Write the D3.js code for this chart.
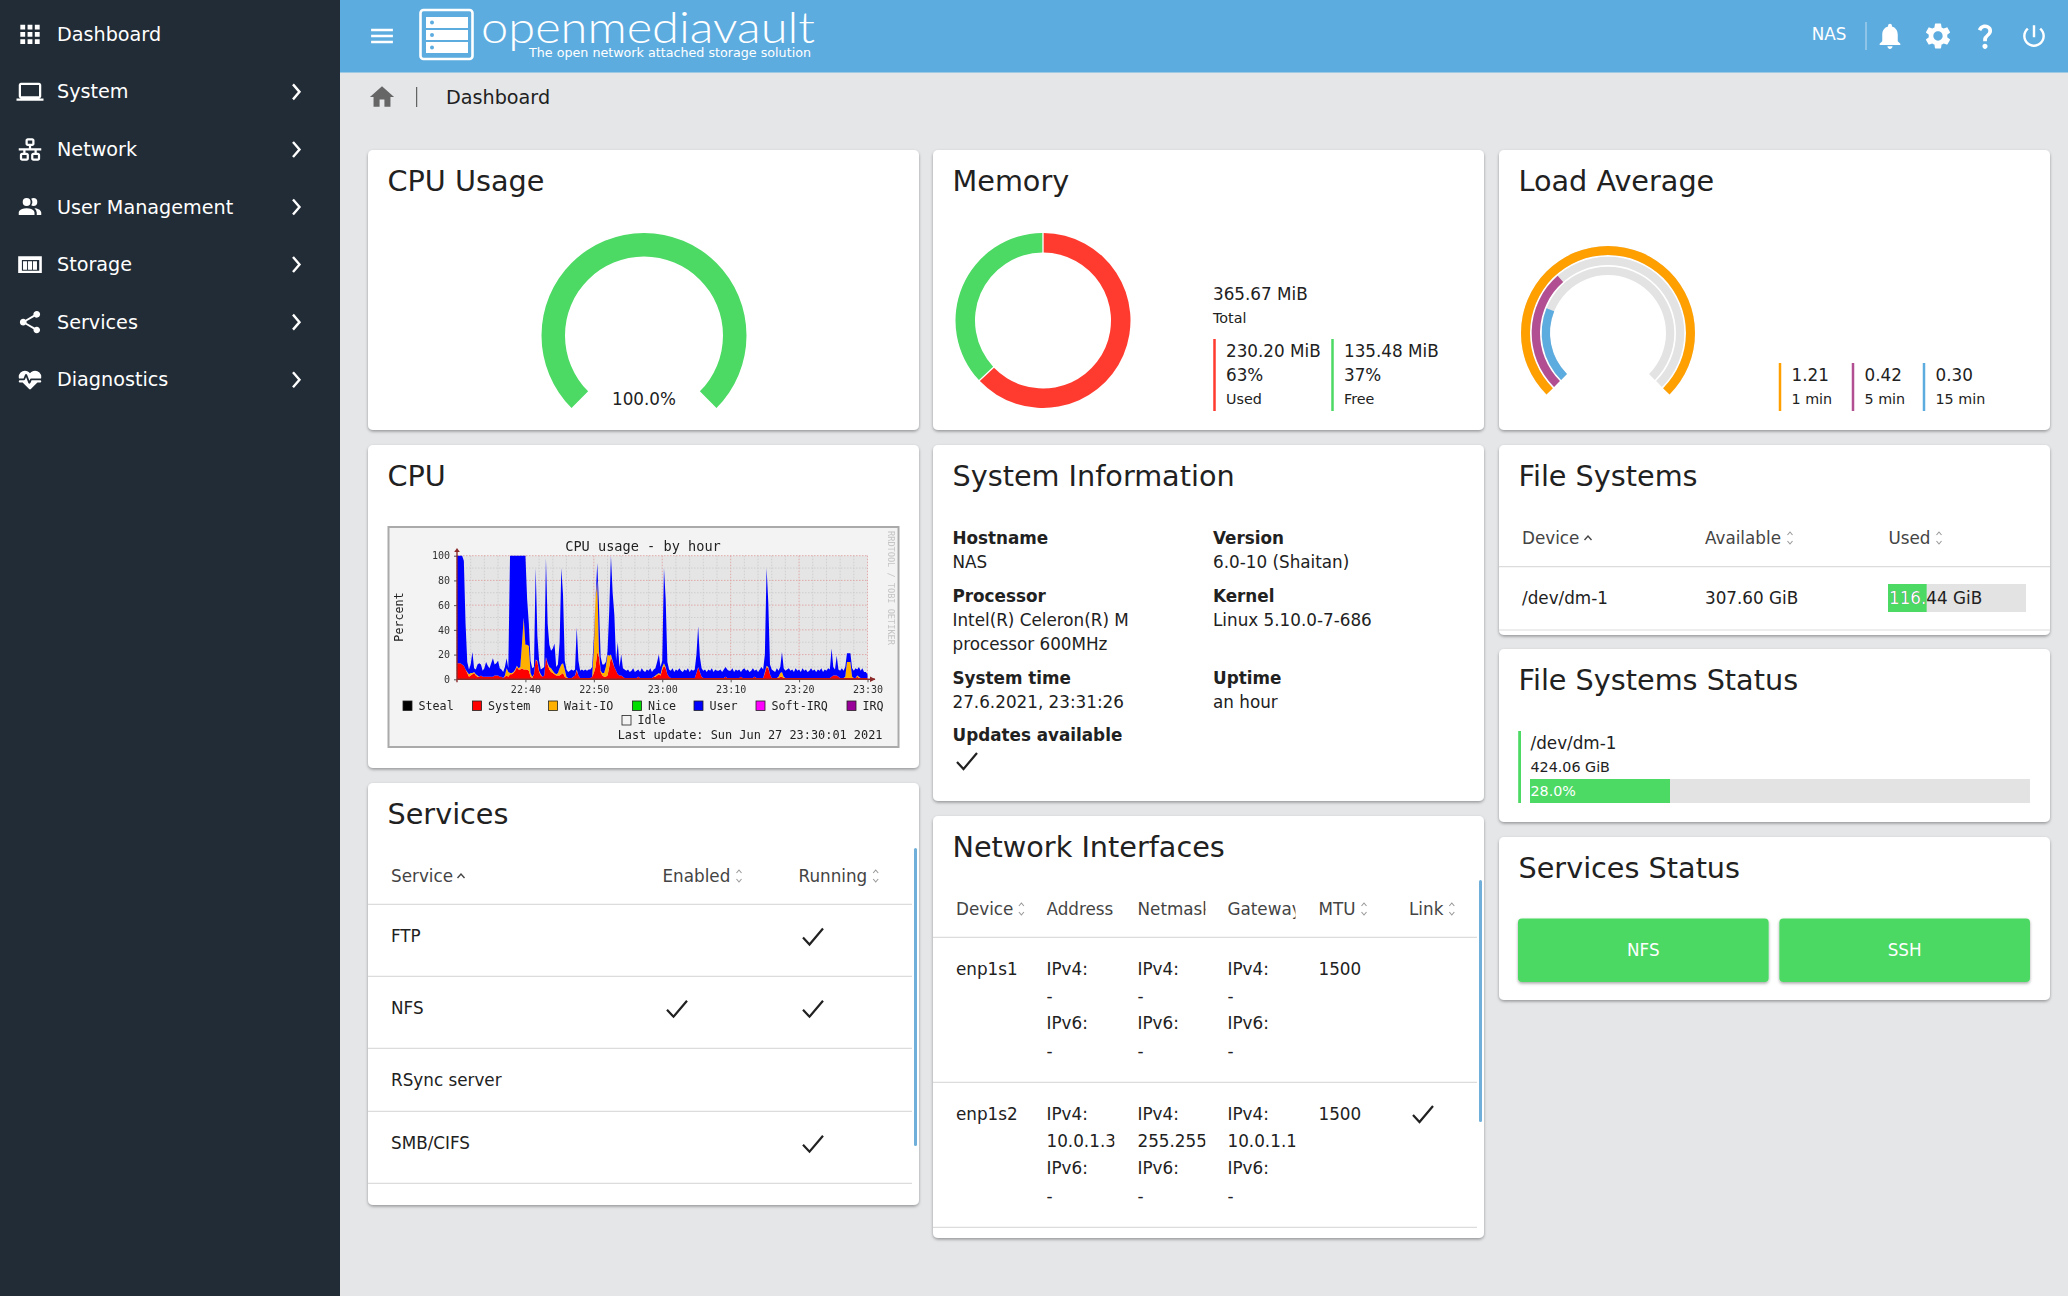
<!DOCTYPE html>
<html>
<head>
<meta charset="utf-8">
<title>openmediavault Dashboard</title>
<script src="https://cdn.jsdelivr.net/npm/d3@7"></script>
<style>
  html, body { margin: 0; padding: 0; background: #e4e6e8; overflow: hidden; }
  svg { display: block; }
  text { font-family: "DejaVu Sans", sans-serif; fill: #212121; dominant-baseline: central; }
  .mono text, text.mono { font-family: "DejaVu Sans Mono", monospace; }
</style>
</head>
<body>
<svg id="page" width="2068" height="1296"></svg>
<script>
// sidebar + header
const navItems = ['Dashboard', 'System', 'Network', 'User Management', 'Storage', 'Services', 'Diagnostics'];

// gauges
const cpuUsage = 100;
const memoryLabels = ['Used', 'Free'];
const memoryPercent = [63, 37];
const memoryAmounts = ['230.20 MiB', '135.48 MiB'];
const memoryTotal = '365.67 MiB';
const loadLabels = ['1 min', '5 min', '15 min'];
const loadValues = [1.21, 0.42, 0.30];

// rrd graph, one sample every 15 seconds from 22:30 to 23:30 (percent)
// rrdBusy is the top edge of the stack, user is whatever is left above system + wait
const rrdBusy = [
  100,100,100,100,96,45,14,8,12,22,9,8,12,13,12,7,9,14,11,9,
  13,17,12,13,15,9,8,6,10,17,9,100,100,100,100,100,100,100,100,100,
  100,65,45,15,9,10,90,35,15,8,9,10,98,45,28,23,25,29,10,12,
  30,90,68,15,8,6,7,8,7,8,42,15,7,8,7,8,7,8,8,10,
  33,65,94,60,18,12,12,14,22,55,100,70,52,15,30,10,20,9,8,7,
  8,6,7,9,6,7,8,6,9,7,6,8,7,9,6,8,9,14,20,10,
  15,90,65,14,8,7,9,6,8,7,9,7,6,8,7,9,6,8,7,8,
  20,43,18,9,7,8,6,8,7,9,6,8,7,7,8,6,8,10,8,7,
  7,9,6,8,7,8,6,8,9,7,8,6,7,9,7,8,6,8,10,8,
  20,90,62,12,8,7,6,9,7,10,22,9,7,8,9,7,8,6,9,7,
  8,6,9,7,8,6,7,9,7,8,6,8,7,9,6,8,7,9,8,25,
  10,8,19,8,7,9,7,10,21,21,21,9,7,9,8,10,7,9,6,6,4
];
const rrdSystem = [
  13,13,13,12,11,8,5,2,3,4,5,3,2,2,3,2,2,2,2,2,
  2,2,3,3,3,2,2,1,2,3,2,4,4,5,7,10,8,8,9,8,
  8,8,7,2,1,4,16,14,6,3,2,3,18,12,8,6,5,4,3,3,
  3,4,5,2,1,1,1,1,2,3,7,3,1,1,1,1,1,1,1,2,
  5,10,22,18,6,3,2,2,3,10,18,14,10,7,4,3,3,2,1,1,
  1,1,1,1,1,1,2,1,1,1,1,1,1,1,1,2,2,3,4,3,
  8,11,9,4,2,1,1,1,1,1,1,1,1,1,1,1,1,1,1,1,
  5,10,6,2,1,1,1,1,1,1,1,1,1,1,1,1,1,2,1,1,
  1,1,1,1,1,1,2,1,1,1,1,1,1,1,2,1,1,1,1,1,
  5,10,9,4,1,1,1,1,1,2,2,1,1,1,1,1,1,1,1,1,
  1,1,1,1,1,1,1,1,1,1,1,1,1,1,1,1,1,1,1,2,
  3,3,3,2,1,1,1,1,1,1,1,1,1,1,2,1,1,1,1,1,1
];
const rrdWait = [
  0,0,0,0,0,0,1,2,2,1,1,1,1,0,0,0,0,0,0,0,
  0,0,0,0,0,0,0,0,1,6,4,1,1,1,1,1,1,2,20,42,
  20,20,20,3,1,0,0,1,1,1,0,0,0,1,2,3,2,1,1,2,
  6,8,8,6,1,0,0,0,0,0,1,0,0,0,0,0,0,0,0,0,
  20,55,58,5,1,2,3,8,17,9,2,1,0,0,0,0,0,0,0,0,
  0,0,0,0,0,0,0,0,0,0,0,0,0,0,0,0,1,1,1,1,
  2,2,1,0,0,0,0,0,0,0,0,0,0,0,0,0,0,0,0,0,
  0,0,0,0,0,0,0,0,0,0,0,0,0,0,0,0,0,0,0,0,
  0,0,0,0,0,0,0,0,0,0,0,0,0,0,0,0,0,0,0,0,
  1,1,1,0,0,0,0,0,1,3,4,1,0,0,0,0,0,0,0,0,
  0,0,0,0,0,0,0,0,0,0,0,0,0,0,0,0,0,0,0,0,
  0,0,0,0,0,0,0,1,13,13,13,1,0,0,1,1,0,0,0,0,0
];
const rrdMinutes = rrdBusy.map((d, i) => i / 4);
const rrdTickMinutes = [10, 20, 30, 40, 50, 60];
const rrdTickLabels = ['22:40', '22:50', '23:00', '23:10', '23:20', '23:30'];
const rrdYTicks = [0, 20, 40, 60, 80, 100];
const rrdLegend = ['Steal', 'System', 'Wait-IO', 'Nice', 'User', 'Soft-IRQ', 'IRQ'];
const rrdLegendColors = ['#000000', '#ff0000', '#ffb000', '#00dd00', '#0000ff', '#ff00ff', '#990099'];

// tables
const serviceNames = ['FTP', 'NFS', 'RSync server', 'SMB/CIFS'];
const serviceEnabled = [false, true, false, false];
const serviceRunning = [true, true, false, true];
const netDevices = ['enp1s1', 'enp1s2'];
const netAddress = ['-', '10.0.1.3'];
const netNetmask = ['-', '255.255.255.0'];
const netGateway = ['-', '10.0.1.1'];
const netMtu = ['1500', '1500'];
const netLink = [false, true];
const fsDevice = '/dev/dm-1';
const fsAvailable = '307.60 GiB';
const fsUsed = '116.44 GiB';
const fsUsedPercent = 28;
const fsTotal = '424.06 GiB';
const statusServices = ['NFS', 'SSH'];

const GREEN = '#4cd964', RED = '#ff3b30', ORANGE = '#ff9f00', PURPLE = '#b14f92', BLUE = '#5dacdf', TRACK = '#e3e3e3';

const icons = {
  apps: 'M4 8h4V4H4v4zm6 12h4v-4h-4v4zm-6 0h4v-4H4v4zm0-6h4v-4H4v4zm6 0h4v-4h-4v4zm6-10v4h4V4h-4zm-6 4h4V4h-4v4zm6 6h4v-4h-4v4zm0 6h4v-4h-4v4z',
  laptop: 'M20 18c1.1 0 1.99-.9 1.99-2L22 6c0-1.1-.9-2-2-2H4c-1.1 0-2 .9-2 2v10c0 1.1.9 2 2 2H0v2h24v-2h-4zM4 6h16v10H4V6z',
  lan: 'M10,2C8.89,2 8,2.89 8,4V7C8,8.11 8.89,9 10,9H11V11H2V13H6V15H5C3.89,15 3,15.89 3,17V20C3,21.11 3.89,22 5,22H9C10.11,22 11,21.11 11,20V17C11,15.89 10.11,15 9,15H8V13H16V15H15C13.89,15 13,15.89 13,17V20C13,21.11 13.89,22 15,22H19C20.11,22 21,21.11 21,20V17C21,15.89 20.11,15 19,15H18V13H22V11H13V9H14C15.11,9 16,8.11 16,7V4C16,2.89 15.11,2 14,2H10M10,4H14V7H10V4M5,17H9V20H5V17M15,17H19V20H15V17Z',
  people: 'M16 17V19H2V17S2 13 9 13 16 17 16 17M12.5 7.5A3.5 3.5 0 1 0 9 11A3.5 3.5 0 0 0 12.5 7.5M15.94 13A5.32 5.32 0 0 1 18 17V19H22V17S22 13.37 15.94 13M15 4A3.39 3.39 0 0 0 13.07 4.59A5 5 0 0 1 13.07 10.41A3.39 3.39 0 0 0 15 11A3.5 3.5 0 0 0 15 4Z',
  storage: 'M1.5 4.5h21v15h-21zM4.8 8v9.5h15.4V8zM5.8 9h3.6v7.5H5.8zM10.2 9h3.6v7.5h-3.6zM14.6 9h3.6v7.5h-3.6z',
  share: 'M18 16.08c-.76 0-1.44.3-1.96.77L8.91 12.7c.05-.23.09-.46.09-.7s-.04-.47-.09-.7l7.05-4.11c.54.5 1.25.81 2.04.81 1.66 0 3-1.34 3-3s-1.34-3-3-3-3 1.34-3 3c0 .24.04.47.09.7L8.04 9.81C7.5 9.31 6.79 9 6 9c-1.66 0-3 1.34-3 3s1.34 3 3 3c.79 0 1.5-.31 2.04-.81l7.12 4.16c-.05.21-.08.43-.08.65 0 1.61 1.31 2.92 2.92 2.92 1.61 0 2.92-1.31 2.92-2.92s-1.31-2.92-2.92-2.92z',
  pulse: 'M7.5,4A5.5,5.5 0 0,0 2,9.5C2,10 2.09,10.5 2.22,11H6.3L7.57,7.63C7.87,6.83 9.05,6.75 9.43,7.63L11.5,13L12.09,11.58C12.22,11.25 12.57,11 13,11H21.78C21.91,10.5 22,10 22,9.5A5.5,5.5 0 0,0 16.5,4C14.64,4 13,4.93 12,6.34C11,4.93 9.36,4 7.5,4V4M3,12.5A1,1 0 0,0 2,13.5A1,1 0 0,0 3,14.5H5.44L11,20C12,20.9 12,20.9 13,20L18.56,14.5H21A1,1 0 0,0 22,13.5A1,1 0 0,0 21,12.5H13.4L12.47,14.8C12.07,15.81 10.92,15.67 10.55,14.83L8.5,9.5L7.54,11.83C7.39,12.21 7.05,12.5 6.6,12.5H3Z',
  home: 'M10 20v-6h4v6h5v-8h3L12 3 2 12h3v8z',
  menu: 'M3 18h18v-2H3v2zm0-5h18v-2H3v2zm0-7v2h18V6H3z',
  bell: 'M12 22c1.1 0 2-.9 2-2h-4c0 1.1.89 2 2 2zm6-6v-5c0-3.07-1.64-5.64-4.5-6.32V4c0-.83-.67-1.5-1.5-1.5s-1.5.67-1.5 1.5v.68C7.63 5.36 6 7.92 6 11v5l-2 2v1h16v-1l-2-2z',
  cog: 'M19.14 12.94c.04-.3.06-.61.06-.94 0-.32-.02-.64-.07-.94l2.03-1.58c.18-.14.23-.41.12-.61l-1.92-3.32c-.12-.22-.37-.29-.59-.22l-2.39.96c-.5-.38-1.03-.7-1.62-.94l-.36-2.54c-.04-.24-.24-.41-.48-.41h-3.84c-.24 0-.43.17-.47.41l-.36 2.54c-.59.24-1.13.57-1.62.94l-2.39-.96c-.22-.08-.47 0-.59.22L2.74 8.87c-.12.21-.08.47.12.61l2.03 1.58c-.05.3-.09.63-.09.94s.02.64.07.94l-2.03 1.58c-.18.14-.23.41-.12.61l1.92 3.32c.12.22.37.29.59.22l2.39-.96c.5.38 1.03.7 1.62.94l.36 2.54c.05.24.24.41.48.41h3.84c.24 0 .44-.17.47-.41l.36-2.54c.59-.24 1.13-.56 1.62-.94l2.39.96c.22.08.47 0 .59-.22l1.92-3.32c.12-.22.07-.47-.12-.61l-2.01-1.58zM12 15.6c-1.98 0-3.6-1.62-3.6-3.6s1.62-3.6 3.6-3.6 3.6 1.62 3.6 3.6-1.62 3.6-3.6 3.6z',
  help: 'M11.07 12.85c.77-1.39 2.25-2.21 3.11-3.44.91-1.29.4-3.7-2.18-3.7-1.69 0-2.52 1.28-2.87 2.34L6.54 6.96C7.25 4.83 9.18 3 11.99 3c2.35 0 3.96 1.07 4.78 2.41.7 1.15 1.11 3.3.03 4.9-1.2 1.77-2.35 2.31-2.97 3.45-.25.46-.35.76-.35 2.24h-2.89c-.01-.78-.13-2.05.48-3.15zM14 20c0 1.1-.9 2-2 2s-2-.9-2-2 .9-2 2-2 2 .9 2 2z',
  power: 'M13 3h-2v10h2V3zm4.83 2.17l-1.42 1.42C17.99 7.86 19 9.81 19 12c0 3.87-3.13 7-7 7s-7-3.13-7-7c0-2.19 1.01-4.14 2.58-5.42L6.17 5.17C4.23 6.82 3 9.26 3 12c0 4.97 4.03 9 9 9s9-4.03 9-9c0-2.74-1.23-5.18-3.17-6.83z'
};
const navIcons = ['apps', 'laptop', 'lan', 'people', 'storage', 'share', 'pulse'];

const svg = d3.select('#page');
const defs = svg.append('defs');

const shadow = defs.append('filter').attr('id', 'shadow')
  .attr('x', '-5%').attr('y', '-5%').attr('width', '110%').attr('height', '112%');
shadow.append('feDropShadow').attr('dx', 0).attr('dy', 1.5).attr('stdDeviation', 1.5)
  .attr('flood-color', '#000').attr('flood-opacity', 0.35);
defs.append('filter').attr('id', 'soft').append('feGaussianBlur').attr('stdDeviation', 0.5);

function label(g, x, y, str, opts = {}) {
  return g.append('text')
    .attr('x', x).attr('y', y)
    .attr('text-anchor', opts.anchor || 'start')
    .style('font-size', (opts.size || 16.8) + 'px')
    .style('font-weight', opts.weight || 400)
    .style('fill', opts.fill || '#212121')
    .text(str);
}

function icon(g, name, cx, cy, size, fill) {
  const k = size / 24;
  g.append('path')
    .attr('d', icons[name])
    .attr('fill-rule', 'evenodd')
    .attr('fill', fill)
    .attr('transform', `translate(${cx - size / 2},${cy - size / 2}) scale(${k})`);
}

function polyline(g, pts, stroke, width) {
  g.append('path')
    .attr('d', d3.line()(pts))
    .attr('fill', 'none')
    .attr('stroke', stroke)
    .attr('stroke-width', width);
}

function check(g, cx, cy) {
  polyline(g, [[cx - 10, cy + 1], [cx - 3.5, cy + 8], [cx + 10, cy - 8]], '#212121', 2.2);
}

function sortUp(g, x, y) {
  polyline(g, [[x - 3.5, y + 2], [x, y - 2], [x + 3.5, y + 2]], '#444', 1.4);
}

function sortBoth(g, x, y) {
  polyline(g, [[x - 2.5, y - 3], [x, y - 6], [x + 2.5, y - 3]], '#999', 1.1);
  polyline(g, [[x - 2.5, y + 3], [x, y + 6], [x + 2.5, y + 3]], '#999', 1.1);
}

function card(x, y, w, h, title) {
  const g = svg.append('g');
  g.append('rect').attr('x', x).attr('y', y).attr('width', w).attr('height', h)
    .attr('rx', 5).attr('fill', '#fff').attr('filter', 'url(#shadow)');
  label(g, x + 19.5, y + 31, title, { size: 28.7 });
  return g;
}

function hline(g, x1, x2, y) {
  g.append('line').attr('x1', x1).attr('x2', x2).attr('y1', y).attr('y2', y)
    .attr('stroke', '#dcdcdc').attr('stroke-width', 1.2);
}

function scrollbar(g, x, y1, y2) {
  g.append('rect').attr('x', x).attr('y', y1).attr('width', 3).attr('height', y2 - y1)
    .attr('rx', 1.5).attr('fill', '#6fafd9');
}

// ---- sidebar
svg.append('rect').attr('width', 340).attr('height', 1296).attr('fill', '#222c36');
const sideScale = d3.scalePoint().domain(navItems).range([34.3, 379.7]);
navItems.forEach((name, i) => {
  const y = sideScale(name);
  icon(svg, navIcons[i], 30, y, i === 0 ? 29 : 27, '#fff');
  label(svg, 57, y, name, { size: 19.2, fill: '#fff' });
  if (i > 0) polyline(svg, [[293, y - 7.5], [299.5, y], [293, y + 7.5]], '#fff', 2.4);
});

// ---- top bar
svg.append('rect').attr('x', 340).attr('width', 1728).attr('height', 72.5).attr('fill', '#5dacdf');
icon(svg, 'menu', 382, 36, 29, '#fff');
svg.append('rect').attr('x', 420.5).attr('y', 10).attr('width', 52).attr('height', 49)
  .attr('rx', 3).attr('fill', 'none').attr('stroke', '#fff').attr('stroke-width', 2.6);
[[17, 11], [30, 10], [42, 11]].forEach(([y, h]) => {
  svg.append('rect').attr('x', 426).attr('y', y).attr('width', 42).attr('height', h).attr('fill', '#fff');
  svg.append('circle').attr('cx', 432).attr('cy', y + h / 2).attr('r', 2).attr('fill', '#5dacdf');
});
label(svg, 481, 42.7, 'openmediavault', { size: 43, weight: 300, fill: '#fff' })
  .style('font-family', 'Lato, sans-serif').style('dominant-baseline', 'auto')
  .attr('textLength', 334).attr('lengthAdjust', 'spacingAndGlyphs');
label(svg, 529, 52, 'The open network attached storage solution', { size: 13, fill: '#fff' })
  .attr('textLength', 282).attr('lengthAdjust', 'spacingAndGlyphs');
label(svg, 1829, 34, 'NAS', { fill: '#fff', anchor: 'middle' });
svg.append('line').attr('x1', 1866).attr('x2', 1866).attr('y1', 22).attr('y2', 50)
  .attr('stroke', '#fff').attr('stroke-opacity', 0.6);
icon(svg, 'bell', 1890, 36, 31, '#fff');
icon(svg, 'cog', 1938, 36, 31, '#fff');
icon(svg, 'help', 1985, 36, 31, '#fff');
icon(svg, 'power', 2034, 36, 29, '#fff');

// ---- breadcrumb
icon(svg, 'home', 382, 97, 29, '#666');
svg.append('line').attr('x1', 416.7).attr('x2', 416.7).attr('y1', 87).attr('y2', 107).attr('stroke', '#444');
label(svg, 446, 97, 'Dashboard', { size: 19.2 });

const gaugeAngle = d3.scaleLinear().domain([0, 1]).range([-0.75 * Math.PI, 0.75 * Math.PI]);

// ---- CPU usage
{
  const g = card(368, 150, 551, 280, 'CPU Usage');
  const arc = d3.arc().innerRadius(79).outerRadius(102.5)
    .startAngle(gaugeAngle(0)).endAngle(gaugeAngle(cpuUsage / 100));
  g.append('path').attr('d', arc()).attr('transform', 'translate(644,335.5)').attr('fill', GREEN);
  label(g, 644, 398.5, cpuUsage.toFixed(1) + '%', { size: 16.8, anchor: 'middle' });
}

// ---- memory
{
  const g = card(933, 150, 551, 280, 'Memory');
  const pie = d3.pie().sort(null).padAngle(0.012);
  const arc = d3.arc().innerRadius(68).outerRadius(87.5);
  g.selectAll('path.slice').data(pie(memoryPercent)).join('path')
    .attr('class', 'slice')
    .attr('d', arc)
    .attr('transform', 'translate(1043,320.5)')
    .attr('fill', (d, i) => [RED, GREEN][i]);
  label(g, 1213, 294, memoryTotal);
  label(g, 1213, 317.5, 'Total', { size: 14.3 });
  [1214.5, 1332.5].forEach((x, i) => {
    g.append('rect').attr('x', x - 1.25).attr('y', 339).attr('width', 2.5).attr('height', 72)
      .attr('fill', [RED, GREEN][i]);
    label(g, x + 11.5, 351, memoryAmounts[i]);
    label(g, x + 11.5, 375, memoryPercent[i] + '%');
    label(g, x + 11.5, 399, memoryLabels[i], { size: 14.3 });
  });
}

// ---- load average
{
  const g = card(1499, 150, 551, 280, 'Load Average');
  const radii = [[78, 87], [68, 76.3], [58, 66.3]];
  const colors = [ORANGE, PURPLE, BLUE];
  const loadScale = d3.scaleLinear().domain([0, d3.max(loadValues)]).range([0, 1]);
  loadValues.forEach((v, i) => {
    const arc = d3.arc().innerRadius(radii[i][0]).outerRadius(radii[i][1]);
    g.append('path').attr('transform', 'translate(1608,333)').attr('fill', TRACK)
      .attr('d', arc({ startAngle: gaugeAngle(0), endAngle: gaugeAngle(1) }));
    g.append('path').attr('transform', 'translate(1608,333)').attr('fill', colors[i])
      .attr('d', arc({ startAngle: gaugeAngle(0), endAngle: gaugeAngle(loadScale(v)) }));
  });
  [1780, 1853, 1924].forEach((x, i) => {
    g.append('rect').attr('x', x - 1.25).attr('y', 363).attr('width', 2.5).attr('height', 48).attr('fill', colors[i]);
    label(g, x + 11.5, 375, loadValues[i].toFixed(2));
    label(g, x + 11.5, 399, loadLabels[i], { size: 14.3 });
  });
}

// ---- CPU rrd graph
{
  const g = card(368, 445, 551, 323, 'CPU');
  const box = g.append('g').attr('class', 'mono').attr('filter', 'url(#soft)');
  box.append('rect').attr('x', 388.5).attr('y', 527).attr('width', 510).attr('height', 220)
    .attr('fill', '#f3f3f3').attr('stroke', '#aaa').attr('stroke-width', 2);

  const x = d3.scaleLinear().domain([0, 60]).range([457, 867.5]);
  const y = d3.scaleLinear().domain([0, 100]).range([679.3, 555.7]);

  box.append('rect').attr('x', x(0)).attr('y', y(100)).attr('width', x(60) - x(0)).attr('height', y(0) - y(100))
    .attr('fill', '#e5e5e5');

  d3.range(0, 61, 2).forEach(m => {
    const major = m % 10 === 0;
    box.append('line').attr('x1', x(m)).attr('x2', x(m)).attr('y1', y(100)).attr('y2', y(0))
      .attr('stroke', major ? '#e09a9a' : '#c9c9c9').attr('stroke-width', 0.8)
      .attr('stroke-dasharray', '1.5 1.5');
  });
  d3.range(0, 101, 10).forEach(v => {
    const major = v % 20 === 0;
    box.append('line').attr('x1', x(0)).attr('x2', x(60)).attr('y1', y(v)).attr('y2', y(v))
      .attr('stroke', major ? '#e09a9a' : '#c9c9c9').attr('stroke-width', 0.8)
      .attr('stroke-dasharray', '1.5 1.5');
  });

  const stackKeys = ['system', 'wait', 'user'];
  const rows = rrdMinutes.map((m, i) => ({
    m,
    system: rrdSystem[i],
    wait: rrdWait[i],
    user: Math.max(0, rrdBusy[i] - rrdSystem[i] - rrdWait[i])
  }));
  const area = d3.area().x(d => x(d.data.m)).y0(d => y(d[0])).y1(d => y(d[1]));
  const stackColors = { system: '#ff0000', wait: '#ffb000', user: '#0000ff' };
  box.selectAll('path.band').data(d3.stack().keys(stackKeys)(rows)).join('path')
    .attr('class', 'band')
    .attr('d', area)
    .attr('fill', d => stackColors[d.key]);

  const axisColor = '#8c2a2a';
  const xAxis = d3.axisBottom(x).tickValues(rrdTickMinutes).tickSize(3)
    .tickFormat((d, i) => rrdTickLabels[i]);
  const yAxis = d3.axisLeft(y).tickValues(rrdYTicks).tickSize(3);
  const gx = box.append('g').attr('transform', `translate(0,${y(0)})`).call(xAxis);
  const gy = box.append('g').attr('transform', `translate(${x(0)},0)`).call(yAxis);
  [gx, gy].forEach(a => {
    a.select('.domain').remove();
    a.selectAll('line').attr('stroke', '#555');
    a.selectAll('text').style('font-family', '"DejaVu Sans Mono", monospace').style('font-size', '10px')
      .style('fill', '#333').attr('font-size', null);
  });
  gx.selectAll('text').attr('y', 10).attr('dy', '0.35em').style('dominant-baseline', 'auto');
  gy.selectAll('text').attr('x', -7).attr('dy', '0.32em').style('dominant-baseline', 'auto');

  polyline(box, [[x(0), y(0)], [875, y(0)]], axisColor, 1.4);
  polyline(box, [[x(0), y(0) + 3], [x(0), 550]], axisColor, 1.4);
  box.append('path').attr('d', d3.line()([[870, y(0) - 2.8], [875.5, y(0)], [870, y(0) + 2.8]])).attr('fill', axisColor);
  box.append('path').attr('d', d3.line()([[x(0) - 2.8, 552], [x(0), 548], [x(0) + 2.8, 552]])).attr('fill', axisColor);

  label(box, 643, 546, 'CPU usage - by hour', { size: 13.6, anchor: 'middle', fill: '#222' });
  label(box, 398.6, 617, 'Percent', { size: 11.7, anchor: 'middle', fill: '#222' })
    .attr('transform', 'rotate(-90 398.6 617)');
  label(box, 890.7, 588, 'RRDTOOL / TOBI OETIKER', { size: 8.6, anchor: 'middle', fill: '#c4c4c4' })
    .attr('transform', 'rotate(90 890.7 588)');

  const swatchX = [403, 472.5, 548.6, 632.5, 694, 756, 847];
  rrdLegend.forEach((name, i) => {
    box.append('rect').attr('x', swatchX[i]).attr('y', 701).attr('width', 9).attr('height', 9.5)
      .attr('fill', rrdLegendColors[i]).attr('stroke', '#222').attr('stroke-width', 0.8);
    label(box, swatchX[i] + 15.5, 705.7, name, { size: 11.7, fill: '#222' });
  });
  box.append('rect').attr('x', 622).attr('y', 715.5).attr('width', 9).attr('height', 9.5)
    .attr('fill', '#f3f3f3').attr('stroke', '#222').attr('stroke-width', 0.8);
  label(box, 637.5, 720, 'Idle', { size: 11.7, fill: '#222' });
  label(box, 882.5, 735, 'Last update: Sun Jun 27 23:30:01 2021', { size: 11.9, anchor: 'end', fill: '#222' });
}

// ---- services table
{
  const g = card(368, 783, 551, 422, 'Services');
  const head = ['Service', 'Enabled', 'Running'];
  const headX = [391, 662.5, 798.5];
  head.forEach((h, i) => label(g, headX[i], 875.7, h, { fill: '#444' }));
  sortUp(g, 461, 876);
  sortBoth(g, 739, 876);
  sortBoth(g, 875.7, 876);
  const lines = [904.3, 976.3, 1048.3, 1111.3, 1183.3];
  lines.forEach(y => hline(g, 368, 912, y));
  const rowY = [935.5, 1007.7, 1079.7, 1142.7];
  serviceNames.forEach((name, i) => {
    label(g, 391, rowY[i], name);
    if (serviceEnabled[i]) check(g, 677, rowY[i] + 1);
    if (serviceRunning[i]) check(g, 813, rowY[i] + 1);
  });
  scrollbar(g, 914, 848, 1146);
}

// ---- system information
{
  const g = card(933, 445, 551, 356, 'System Information');
  const left = 952.5, right = 1213;
  label(g, left, 538, 'Hostname', { weight: 700 });
  label(g, left, 562, 'NAS');
  label(g, left, 596, 'Processor', { weight: 700 });
  label(g, left, 620, 'Intel(R) Celeron(R) M');
  label(g, left, 644, 'processor 600MHz');
  label(g, left, 678, 'System time', { weight: 700 });
  label(g, left, 702, '27.6.2021, 23:31:26');
  label(g, left, 735, 'Updates available', { weight: 700 });
  check(g, 967, 761);
  label(g, right, 538, 'Version', { weight: 700 });
  label(g, right, 562, '6.0-10 (Shaitan)');
  label(g, right, 596, 'Kernel', { weight: 700 });
  label(g, right, 620, 'Linux 5.10.0-7-686');
  label(g, right, 678, 'Uptime', { weight: 700 });
  label(g, right, 702, 'an hour');
}

// ---- network interfaces
{
  const g = card(933, 816, 551, 422, 'Network Interfaces');
  const colX = [956, 1046.5, 1137.5, 1227.5, 1318.5, 1409];
  const head = ['Device', 'Address', 'Netmask', 'Gateway', 'MTU', 'Link'];
  const clipped = (x, i, key) => {
    const id = 'clip-' + key + '-' + i;
    defs.append('clipPath').attr('id', id).append('rect')
      .attr('x', x).attr('y', 880).attr('width', 68).attr('height', 340);
    return g.append('g').attr('clip-path', `url(#${id})`);
  };
  head.forEach((h, i) => {
    const target = (i >= 1 && i <= 3) ? clipped(colX[i], i, 'h') : g;
    label(target, colX[i], 908.7, h, { fill: '#444' });
  });
  sortBoth(g, 1021.4, 909);
  sortBoth(g, 1364, 909);
  sortBoth(g, 1451.8, 909);
  [937.3, 1082.3, 1227.3].forEach(y => hline(g, 933, 1477, y));
  const rowTop = [969, 1114];
  netDevices.forEach((name, r) => {
    const y = rowTop[r];
    label(g, colX[0], y, name);
    [netAddress, netNetmask, netGateway].forEach((col, c) => {
      const cell = clipped(colX[c + 1], c, 'r' + r);
      label(cell, colX[c + 1], y, 'IPv4:');
      label(cell, colX[c + 1], y + 27, col[r]);
      label(cell, colX[c + 1], y + 54, 'IPv6:');
      label(cell, colX[c + 1], y + 82, '-');
    });
    label(g, colX[4], y, netMtu[r]);
    if (netLink[r]) check(g, 1423, y);
  });
  scrollbar(g, 1479, 880, 1122);
}

// ---- file systems
{
  const g = card(1499, 445, 551, 190, 'File Systems');
  const head = ['Device', 'Available', 'Used'];
  const headX = [1522, 1705, 1888.5];
  head.forEach((h, i) => label(g, headX[i], 538, h, { fill: '#444' }));
  sortUp(g, 1588, 538);
  sortBoth(g, 1790, 538);
  sortBoth(g, 1939, 538);
  hline(g, 1499, 2050, 566.6);
  hline(g, 1499, 2050, 630);
  label(g, headX[0], 597.8, fsDevice);
  label(g, headX[1], 597.8, fsAvailable);

  const used = d3.scaleLinear().domain([0, 100]).range([1888, 2026]);
  g.append('rect').attr('x', used(0)).attr('y', 584).attr('width', used(100) - used(0)).attr('height', 28).attr('fill', TRACK);
  g.append('rect').attr('x', used(0)).attr('y', 584).attr('width', used(fsUsedPercent) - used(0)).attr('height', 28).attr('fill', GREEN);
  label(g, 1889, 597.8, fsUsed);
  defs.append('clipPath').attr('id', 'used-clip').append('rect')
    .attr('x', used(0)).attr('y', 584).attr('width', used(fsUsedPercent) - used(0)).attr('height', 28);
  label(g.append('g').attr('clip-path', 'url(#used-clip)'), 1889, 597.8, fsUsed, { fill: '#fff' });
}

// ---- file systems status
{
  const g = card(1499, 649, 551, 173, 'File Systems Status');
  g.append('rect').attr('x', 1518.2).attr('y', 731).attr('width', 2.8).attr('height', 72).attr('fill', GREEN);
  label(g, 1530.5, 743, fsDevice);
  label(g, 1530.5, 767, fsTotal, { size: 14.3 });
  const pct = d3.scaleLinear().domain([0, 100]).range([1530, 2030]);
  g.append('rect').attr('x', pct(0)).attr('y', 779).attr('width', pct(100) - pct(0)).attr('height', 24).attr('fill', TRACK);
  g.append('rect').attr('x', pct(0)).attr('y', 779).attr('width', pct(fsUsedPercent) - pct(0)).attr('height', 24).attr('fill', GREEN);
  label(g, 1530.5, 791, fsUsedPercent.toFixed(1) + '%', { size: 14.3, fill: '#fff' });
}

// ---- services status
{
  const g = card(1499, 837, 551, 163, 'Services Status');
  const band = d3.scaleBand().domain(statusServices).range([1518, 2030]).paddingInner(0.041);
  statusServices.forEach(name => {
    g.append('rect').attr('x', band(name)).attr('y', 918.5).attr('width', band.bandwidth()).attr('height', 63.5)
      .attr('rx', 4).attr('fill', GREEN).attr('filter', 'url(#shadow)');
    label(g, band(name) + band.bandwidth() / 2, 949.5, name, { anchor: 'middle', fill: '#fff' });
  });
}
</script>
</body>
</html>
